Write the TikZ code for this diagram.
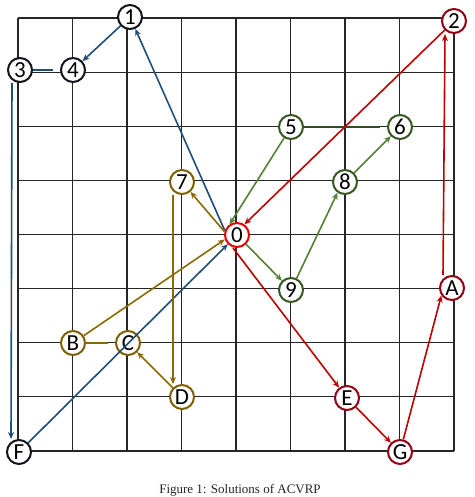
\documentclass[tikz,border=0pt]{standalone}
\usepackage{fontspec}
\setmainfont{Carlito}
\newfontfamily\capfont{Liberation Serif}
\usetikzlibrary{arrows.meta}
\definecolor{bluE}{RGB}{31,78,121}
\definecolor{redE}{RGB}{192,0,0}
\definecolor{redN}{RGB}{150,0,20}
\definecolor{redZ}{RGB}{232,0,0}
\definecolor{grnE}{RGB}{84,130,53}
\definecolor{grnN}{RGB}{56,87,35}
\definecolor{grnD}{RGB}{45,80,30}
\definecolor{olvE}{RGB}{140,105,0}
\definecolor{olvN}{RGB}{127,96,0}
\definecolor{blkN}{RGB}{20,20,30}
\begin{document}
\begin{tikzpicture}[x=1pt,y=-1pt,
  pt/.style={circle,draw=#1,line width=2pt,fill=white,minimum size=24pt,inner sep=0pt,font=\fontsize{23}{23}\selectfont},
  edge/.style={draw=#1,line width=1.6pt,-{Stealth[length=7pt,width=6pt]}},
  link/.style={draw=#1,line width=2.2pt,shorten >=7pt},
  gridl/.style={black!85,line width=1.1pt}]
\useasboundingbox (0,0) rectangle (474,497);
\fill[white] (0,0) rectangle (474,497);
% grid
\foreach \i in {0,...,8} {
  \draw[gridl] ({18+54.5*\i},18) -- ({18+54.5*\i},451);
  \draw[gridl] (18,{18+54.125*\i}) -- (454,{18+54.125*\i});
}
% nodes
\node[pt=blkN] (n1) at (130,17) {1};
\node[pt=redN] (n2) at (454,21) {2};
\node[pt=blkN] (n3) at (20,70) {3};
\node[pt=blkN] (n4) at (73,70) {4};
\node[pt=grnN] (n5) at (291,127) {5};
\node[pt=grnN] (n6) at (400,127) {6};
\node[pt=olvN] (n7) at (182,182) {7};
\node[pt=grnN] (n8) at (345,182) {8};
\node[pt=redZ] (n0) at (237,235) {0};
\node[pt=grnN] (n9) at (291,290) {9};
\node[pt=redN] (nA) at (452,288) {A};
\node[pt=olvN] (nB) at (73,343) {B};
\node[pt=olvN] (nC) at (128,343) {C};
\node[pt=olvN] (nD) at (182,397) {D};
\node[pt=redN] (nE) at (347,398) {E};
\node[pt=blkN] (nF) at (19,452) {F};
\node[pt=redN] (nG) at (400,452) {G};
% blue route
\draw[edge=bluE] (n0.160) -- (n1);
\draw[edge=bluE] (n1) -- (n4);
\draw[link=bluE] (n3) -- (n4);
\draw[edge=bluE] ([xshift=-8pt]n3.south) -- ([xshift=-8pt]nF.north);
\draw[edge=bluE] (nF) -- (n0.225);
% green route
\draw[edge=grnE] (n0) -- (n9);
\draw[edge=grnE] (n9) -- (n8.235);
\draw[edge=grnE] (n8) -- (n6);
\draw[link=grnD] (n5) -- (n6);
\draw[edge=grnE] (n5) -- (n0.125);
% red route
\draw[edge=redE] ([xshift=-4pt]n0.south) -- (nE);
\draw[edge=redE] (nE) -- (nG);
\draw[edge=redE] (nG) -- (nA.215);
\draw[edge=redE] ([xshift=-9pt]nA.north) -- ([xshift=-9pt]n2.south);
\draw[edge=redE] (n2) -- (n0.55);
% olive route
\draw[edge=olvE] (n0.165) -- (n7);
\draw[edge=olvE] ([xshift=-9pt]n7.south) -- ([xshift=-9pt]nD.north);
\draw[edge=olvE] (nD) -- (nC);
\draw[link=olvE] (nB) -- (nC);
\draw[edge=olvE] (nB) -- (n0.200);
% caption
\node[anchor=base,font=\capfont\fontsize{13}{13}\selectfont,text=black!85] (cap) at (240,493.5) {Figure 1: Solutions of ACVRP};
\end{tikzpicture}
\end{document}
